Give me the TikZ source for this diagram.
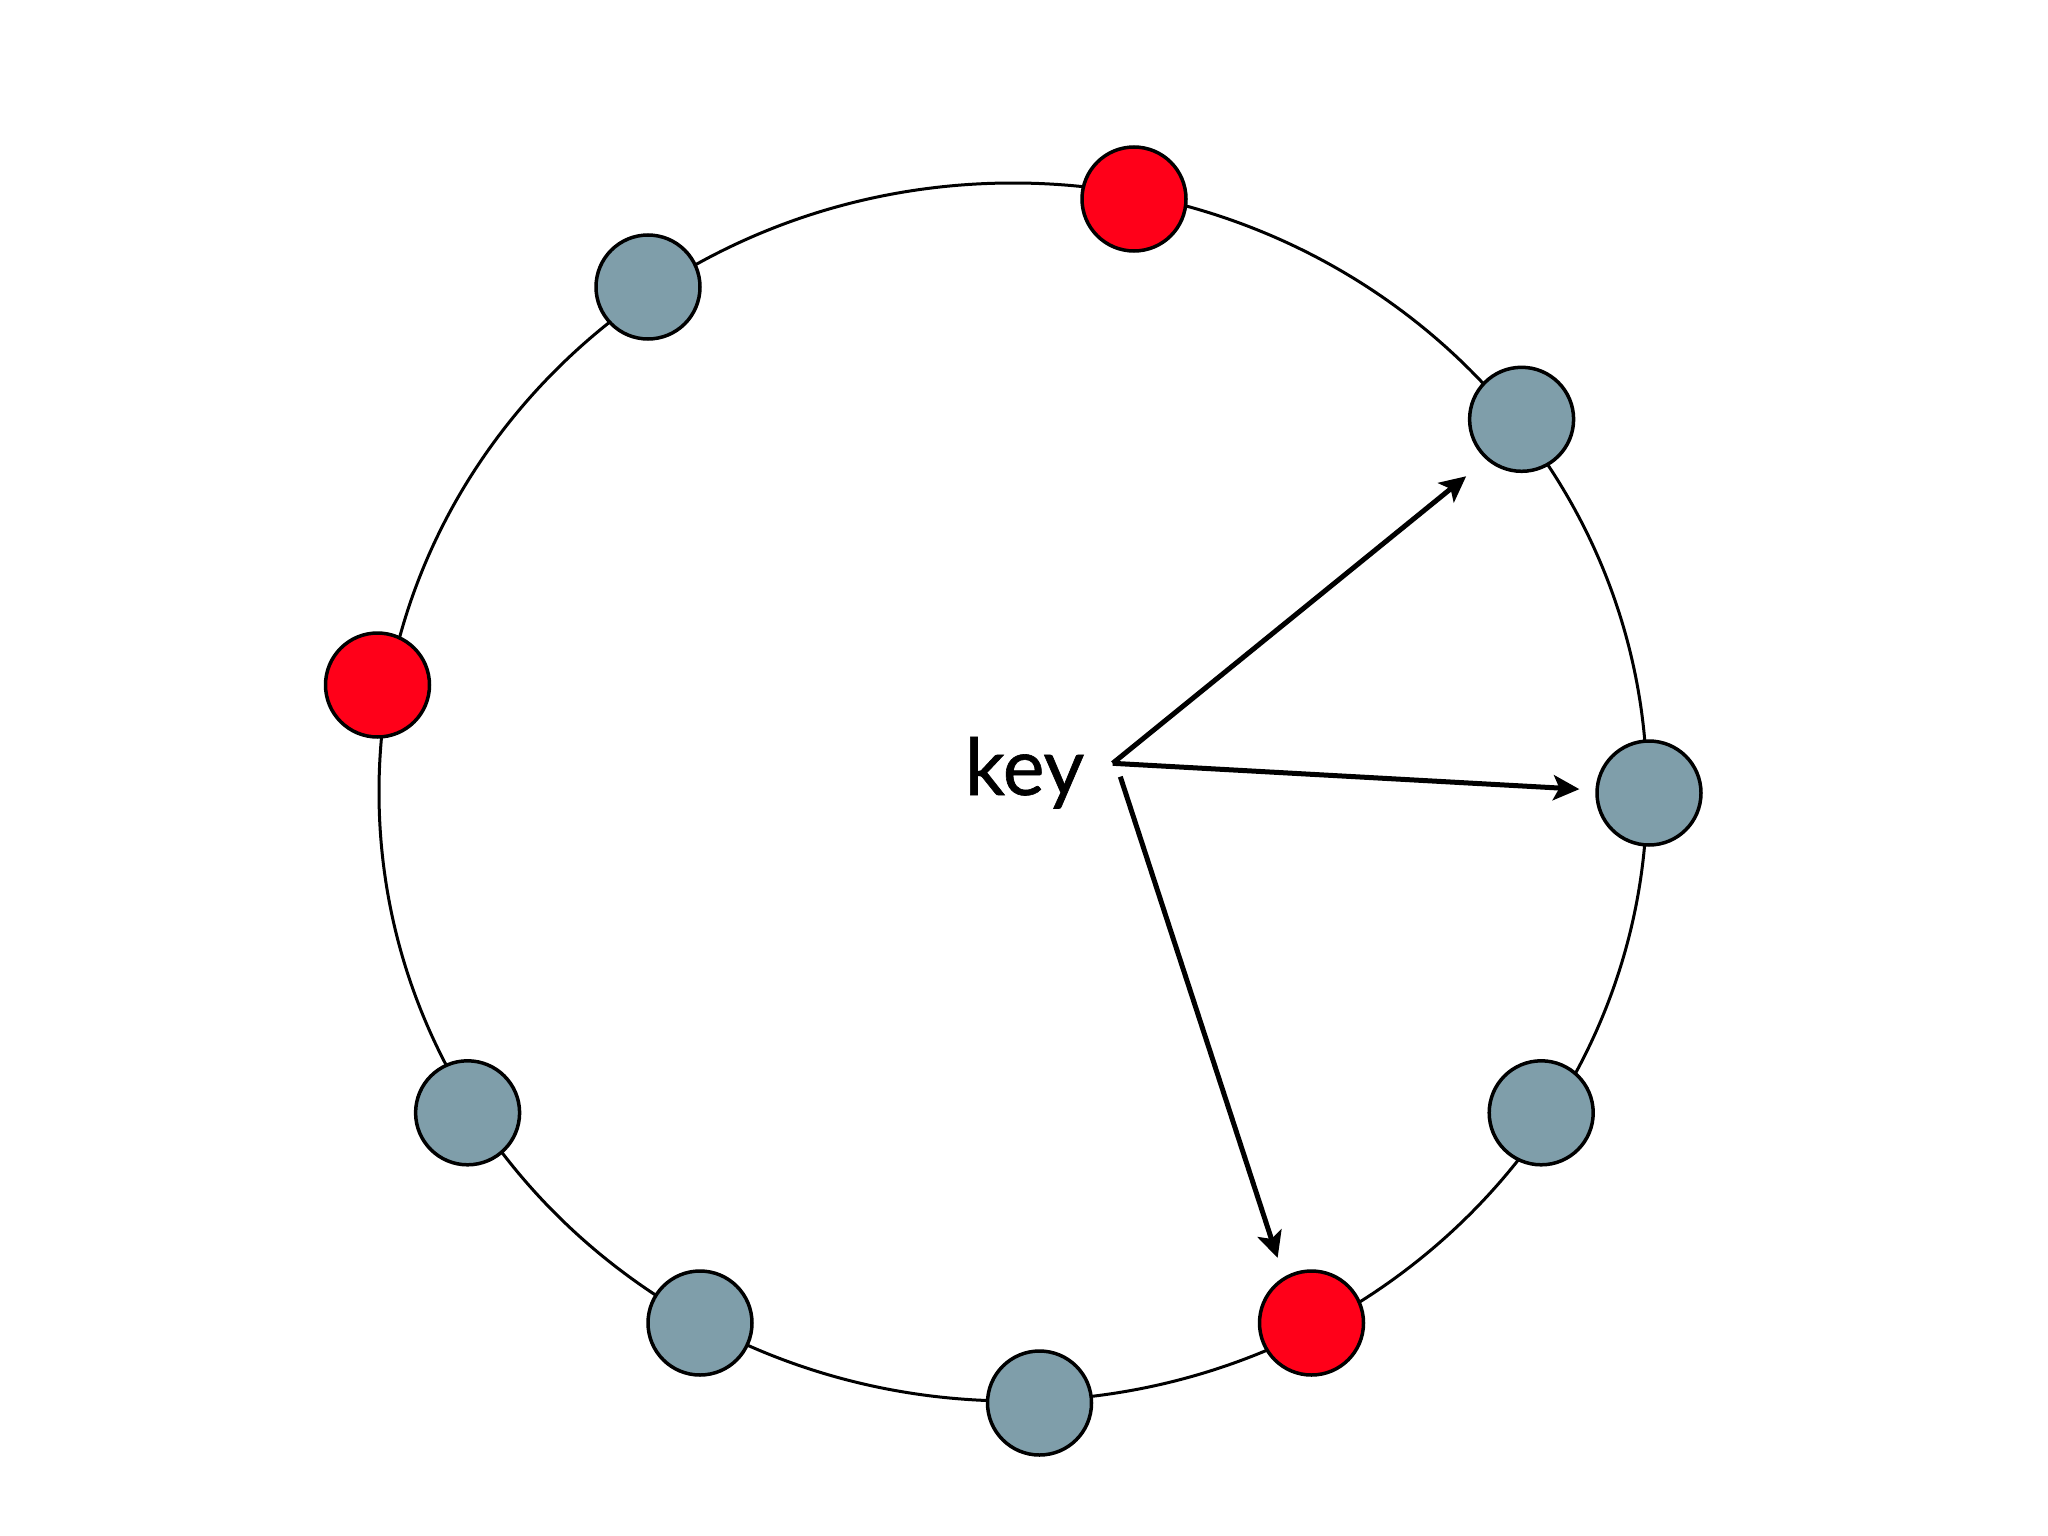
\documentclass[tikz,border=0pt]{standalone}
\usepackage{fontspec}
\setmainfont{Lato}
\newfontfamily\keyfont{Lato}[FakeBold=0.8]
\usetikzlibrary{arrows.meta}
\definecolor{ringred}{RGB}{255,0,25}
\definecolor{ringgray}{RGB}{127,158,170}
\tikzset{
  ringnode/.style={circle, draw=black, line width=3.5pt, minimum size=104pt, inner sep=0pt},
  rednode/.style={ringnode, fill=ringred},
  graynode/.style={ringnode, fill=ringgray},
  keyarrow/.style={line width=5pt, -{Stealth[length=26pt,width=25pt,inset=6pt]}},
}
\begin{document}
\begin{tikzpicture}[x=1pt,y=-1pt]
\useasboundingbox[fill=white] (0,0) rectangle (2048,1536);
\draw[line width=3pt] (1013,792) ellipse [x radius=634, y radius=609];
\node[rednode]  (n1)  at (1134,199) {};
\node[graynode] (n2)  at (648,287) {};
\node[graynode] (n3)  at (1521.6,419.3) {};
\node[rednode]  (n4)  at (377.5,685) {};
\node[graynode] (n5)  at (1649,793) {};
\node[graynode] (n6)  at (467.6,1112.8) {};
\node[graynode] (n7)  at (1541.2,1112.8) {};
\node[graynode] (n8)  at (700,1323) {};
\node[rednode]  (n9)  at (1311.5,1323) {};
\node[graynode] (n10) at (1039.5,1403) {};
\node[anchor=base, inner sep=0pt, font=\keyfont\fontsize{79}{90}\selectfont] (key) at (1024.5,795) {key};
\coordinate (o1) at (1112.7,763.3);
\coordinate (o2) at (1120.3,776.7);
\draw[keyarrow, shorten >=26pt] (o1) -- (n3.229);
\draw[keyarrow, shorten >=16pt] (o1) -- (n5);
\draw[keyarrow, shorten >=20pt] (o2) -- (n9.121);
\end{tikzpicture}
\end{document}
